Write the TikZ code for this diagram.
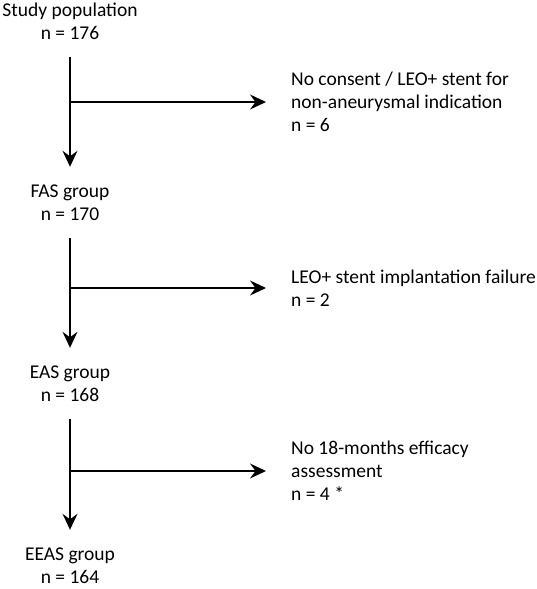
\documentclass[tikz,border=0pt]{standalone}
\usepackage{fontspec}
\setmainfont{Carlito}
\usepackage{tikz}
\usetikzlibrary{arrows.meta, positioning}

\begin{document}
\begin{tikzpicture}[
            x=1pt, y=-1pt,
            every node/.style={font=\fontsize{19.5}{23}\selectfont, inner sep=0pt},
            group/.style={minimum height=71pt, align=center},
            excl/.style={anchor=west, align=left},
            flow/.style={-{Stealth[length=16pt, width=15pt, inset=5.5pt]}, line width=1.5pt, color=black}
        ]
        \useasboundingbox (0,0) rectangle (536,589);

        \node[group] (pop) at (70, 21) {Study population\\n = 176};
        \node[group] (fas) at (70, 202.5) {FAS group\\n = 170};
        \node[group] (eas) at (70, 383.5) {EAS group\\n = 168};
        \node[group] (eeas) at (70, 565.5) {EEAS group\\n = 164};

        \node[excl] (ex1) at (291, 102) {No consent / LEO+ stent for\\non-aneurysmal indication\\n = 6};
        \node[excl] (ex2) at (291, 288) {LEO+ stent implantation failure\\n = 2};
        \node[excl] (ex3) at (291, 471) {No 18-months efficacy\\assessment\\n = 4 *};

        \draw[flow] (pop) -- (fas);
        \draw[flow, shorten >=25pt] (pop.south |- ex1.west) -- (ex1.west);

        \draw[flow] (fas) -- (eas);
        \draw[flow, shorten >=25pt] (fas.south |- ex2.west) -- (ex2.west);

        \draw[flow] (eas) -- (eeas);
        \draw[flow, shorten >=25pt] (eas.south |- ex3.west) -- (ex3.west);

\end{tikzpicture}
\end{document}
